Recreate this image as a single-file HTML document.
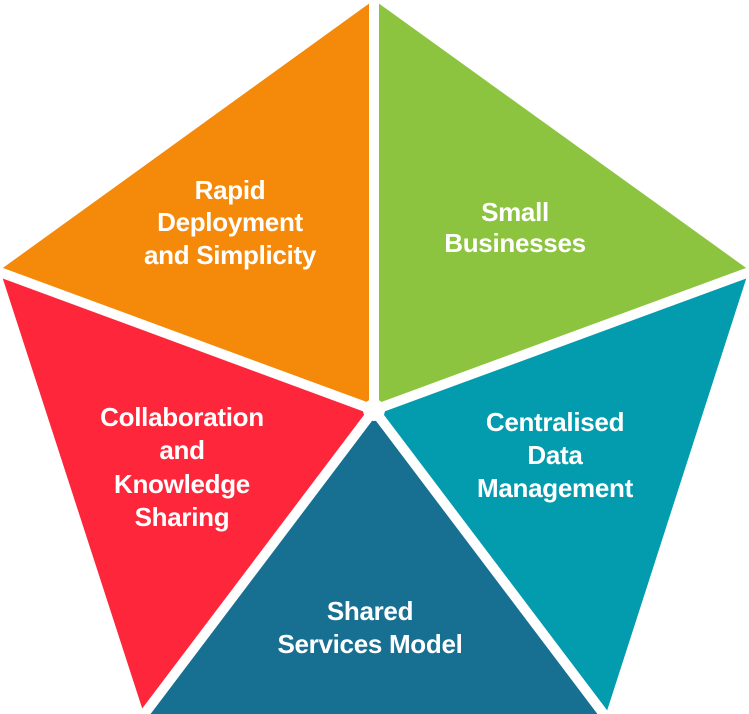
<!DOCTYPE html>
<html><head><style>
html,body{margin:0;padding:0;background:#fff;}
svg{display:block;}
text{font-family:"Liberation Sans",sans-serif;font-size:26px;font-weight:bold;fill:#fff;text-anchor:middle;letter-spacing:-0.3px;}
</style></head><body>
<svg width="749" height="714" viewBox="0 0 749 714">
<polygon points="374,410 374,0 0,270" fill="#F5890A"/>
<polygon points="374,410 374,0 749,270" fill="#8CC43F"/>
<polygon points="374,410 749,270 606,714" fill="#039CAE"/>
<polygon points="374,410 606,714 144,714" fill="#176F92"/>
<polygon points="374,410 144,714 0,270" fill="#FE263A"/>
<g stroke="#fff" stroke-width="10" stroke-linecap="round">
<line x1="374" y1="410" x2="374" y2="-10"/>
<line x1="374" y1="410" x2="-14" y2="267"/>
<line x1="374" y1="410" x2="763" y2="267"/>
<line x1="374" y1="410" x2="612" y2="725"/>
<line x1="374" y1="410" x2="136" y2="725"/>
</g>
<circle cx="374" cy="410" r="11" fill="#fff"/>
<text x="230" y="199">Rapid</text>
<text x="230" y="231">Deployment</text>
<text x="230" y="264">and Simplicity</text>
<text x="515" y="221">Small</text>
<text x="515" y="252">Businesses</text>
<text x="555" y="431">Centralised</text>
<text x="555" y="464">Data</text>
<text x="555" y="497">Management</text>
<text x="182" y="426">Collaboration</text>
<text x="182" y="459">and</text>
<text x="182" y="493">Knowledge</text>
<text x="182" y="526">Sharing</text>
<text x="370" y="620">Shared</text>
<text x="370" y="653">Services Model</text>
</svg>
</body></html>
